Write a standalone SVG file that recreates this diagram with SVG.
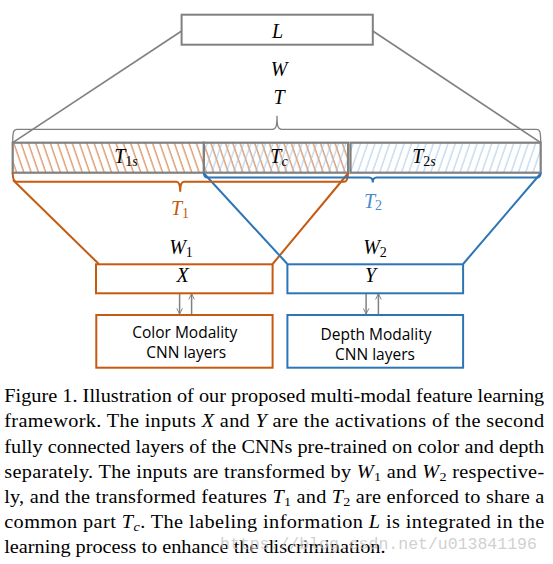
<svg xmlns="http://www.w3.org/2000/svg" width="553" height="564" viewBox="0 0 553 564">
<style>
.math{font-family:"Liberation Serif","DejaVu Serif",serif;font-style:italic;font-size:20px;text-anchor:middle;fill:#000}
.sub{font-size:14px;font-style:normal}
.subi{font-size:14px;font-style:italic}
.sans{font-family:"Open Sans","Liberation Sans",sans-serif;font-size:15.5px;text-anchor:middle;fill:#000}
.cap{font-family:"Liberation Serif","Times New Roman",serif;font-size:18.6px;fill:#000}
.cap .i{font-style:italic}
.cap .s{font-size:13px}
.gray{fill:none;stroke:#808080}
.org{fill:none;stroke:#c55a11;stroke-width:2}
.blu{fill:none;stroke:#2e75b6;stroke-width:2}
.arr{stroke:#808080;stroke-width:1.5;fill:none}
</style>
<defs>
<pattern id="hO" patternUnits="userSpaceOnUse" width="7.3" height="20" patternTransform="skewX(19)">
<line x1="1" y1="-1" x2="1" y2="21" stroke="#c55a11" stroke-width="0.9"/>
</pattern>
<pattern id="hB" patternUnits="userSpaceOnUse" width="7.3" height="20" patternTransform="skewX(-19)">
<line x1="1" y1="-1" x2="1" y2="21" stroke="#9dc3e6" stroke-width="0.9"/>
</pattern>
<marker id="ah" viewBox="0 0 10 10" refX="9" refY="5" markerWidth="7" markerHeight="7" markerUnits="userSpaceOnUse" orient="auto">
<path d="M1,1 L9,5 L1,9" fill="none" stroke="#808080" stroke-width="1.4"/>
</marker>
</defs>
<rect width="553" height="564" fill="#fff"/>

<g id="connectors">
<line class="gray" x1="181.6" y1="31" x2="12.7" y2="142.7" stroke-width="1.6"/>
<line class="gray" x1="372.8" y1="31" x2="540.7" y2="142.7" stroke-width="1.6"/>
<path class="gray" stroke-width="1.3" d="M12.7,142.7 C12.7,132 13.5,129.3 17,129.3 H272.5 C276,129.3 277,126 277,115.7 C277,126 278,129.3 281.5,129.3 H536.5 C540,129.3 540.7,132 540.7,142.7"/>
<line class="org" x1="13" y1="180" x2="98.8" y2="264"/>
<line class="org" x1="347.5" y1="174" x2="272.6" y2="264"/>
<line class="blu" x1="204.5" y1="174" x2="287.4" y2="264"/>
<line class="blu" x1="540.2" y1="174" x2="463.1" y2="264"/>
<line class="arr" x1="179.6" y1="293.3" x2="179.6" y2="314" marker-end="url(#ah)"/>
<line class="arr" x1="191.6" y1="314.5" x2="191.6" y2="293.8" marker-end="url(#ah)"/>
<line class="arr" x1="366.1" y1="293.3" x2="366.1" y2="314" marker-end="url(#ah)"/>
<line class="arr" x1="378.4" y1="314.5" x2="378.4" y2="293.8" marker-end="url(#ah)"/>
</g>

<g id="L">
<rect x="181.6" y="14.7" width="191.2" height="30" fill="#fff" stroke="#808080" stroke-width="2"/>
<text class="math" x="277.5" y="37.7">L</text>
</g>
<g id="W"><text class="math" x="279" y="75.5">W</text></g>
<g id="T"><text class="math" x="279" y="103.5">T</text></g>

<g id="T1s">
<rect x="12.7" y="142.7" width="191.2" height="30" fill="url(#hO)"/>
<rect x="12.7" y="142.7" width="191.2" height="30" fill="none" stroke="#808080" stroke-width="2.2"/>
<text class="math" x="126" y="162.7">T<tspan class="sub" dy="3.3">1</tspan><tspan class="subi">s</tspan></text>
</g>
<g id="Tc">
<rect x="203.9" y="142.7" width="144.2" height="30" fill="url(#hO)"/>
<rect x="203.9" y="142.7" width="144.2" height="30" fill="url(#hB)"/>
<rect x="203.9" y="142.7" width="144.2" height="30" fill="none" stroke="#808080" stroke-width="2.2"/>
<text class="math" x="279" y="163">T<tspan class="subi" dy="3.3">c</tspan></text>
</g>
<g id="T2s">
<rect x="350.5" y="142.7" width="190.2" height="30" fill="url(#hB)"/>
<rect x="350.5" y="142.7" width="190.2" height="30" fill="none" stroke="#808080" stroke-width="2.2"/>
<text class="math" x="424" y="163">T<tspan class="sub" dy="3.3">2</tspan><tspan class="subi">s</tspan></text>
</g>

<g id="T1">
<path class="org" d="M12.7,172.7 Q12.7,181.7 16.5,181.7 H176.4 Q180.2,181.7 180.2,191.7 Q180.2,181.7 184,181.7 H344 Q348,181.7 348,172.7"/>
<text class="math" x="180" y="215" style="fill:#c55a11">T<tspan class="sub" dy="2.8">1</tspan></text>
</g>
<g id="T2">
<path class="blu" d="M203.9,172.7 Q203.9,177.5 207.5,177.5 H369.2 Q372.8,177.5 372.8,182.5 Q372.8,177.5 376.4,177.5 H537 Q540.7,177.5 540.7,172.7"/>
<text class="math" x="373" y="207.5" style="fill:#4a8acb">T<tspan class="sub" dy="2.8">2</tspan></text>
</g>

<g id="W1"><text class="math" x="181" y="253.5">W<tspan class="sub" dy="3.3">1</tspan></text></g>
<g id="W2"><text class="math" x="375" y="253.5">W<tspan class="sub" dy="3.3">2</tspan></text></g>

<g id="X">
<rect x="96" y="264.3" width="176.6" height="29" fill="#fff" stroke="#c55a11" stroke-width="2"/>
<text class="math" x="182.5" y="282">X</text>
</g>
<g id="Y">
<rect x="287.4" y="264.3" width="175.7" height="29" fill="#fff" stroke="#2e75b6" stroke-width="2"/>
<text class="math" x="370.5" y="282">Y</text>
</g>

<g id="color-cnn">
<rect x="96.3" y="315" width="176.3" height="52.7" fill="#fff" stroke="#c55a11" stroke-width="2"/>
<text class="sans" x="184.8" y="337.7">Color Modality</text>
<text class="sans" x="186.2" y="357.7">CNN layers</text>
</g>
<g id="depth-cnn">
<rect x="287.4" y="315" width="175.7" height="52.7" fill="#fff" stroke="#2e75b6" stroke-width="2"/>
<text class="sans" x="376" y="340">Depth Modality</text>
<text class="sans" x="375" y="360">CNN layers</text>
</g>

<g id="caption">
<g transform="scale(1.09,1)">
<text class="cap" x="3.85" y="402.3" textLength="495.4" lengthAdjust="spacing">Figure 1. Illustration of our proposed multi-modal feature learning</text>
<text class="cap" x="3.85" y="427.3" textLength="495.4" lengthAdjust="spacing">framework. The inputs <tspan class="i">X</tspan> and <tspan class="i">Y</tspan> are the activations of the second</text>
<text class="cap" x="3.85" y="452.7" textLength="495.4" lengthAdjust="spacing">fully connected layers of the CNNs pre-trained on color and depth</text>
<text class="cap" x="3.85" y="477.7" textLength="495.4" lengthAdjust="spacing">separately. The inputs are transformed by <tspan class="i">W</tspan><tspan class="s" dy="3">1</tspan><tspan dy="-3"> and </tspan><tspan class="i">W</tspan><tspan class="s" dy="3">2</tspan><tspan dy="-3"> respective-</tspan></text>
<text class="cap" x="3.85" y="503.3" textLength="495.4" lengthAdjust="spacing">ly, and the transformed features <tspan class="i">T</tspan><tspan class="s" dy="3">1</tspan><tspan dy="-3"> and </tspan><tspan class="i">T</tspan><tspan class="s" dy="3">2</tspan><tspan dy="-3"> are enforced to share a</tspan></text>
<text class="cap" x="3.85" y="528.3" textLength="495.4" lengthAdjust="spacing">common part <tspan class="i">T</tspan><tspan class="s i" dy="3">c</tspan><tspan dy="-3">. The labeling information </tspan><tspan class="i">L</tspan> is integrated in the</text>
<text class="cap" x="3.85" y="553.3">learning process to enhance the discrimination.</text>
</g>
<text x="220" y="549" style="font-family:'Liberation Mono',monospace;font-size:16.5px;fill:#c4c4c4;fill-opacity:0.8">https://blog.csdn.net/u013841196</text>
</g>
</svg>
